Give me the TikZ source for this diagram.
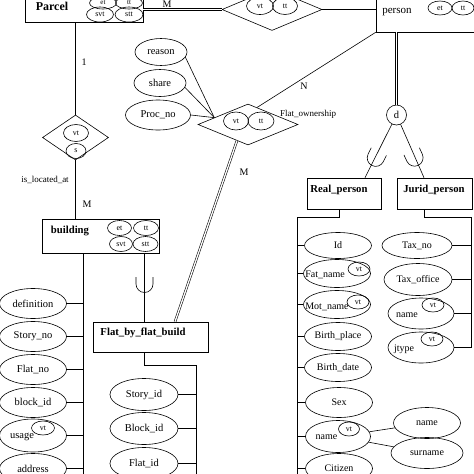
\documentclass[tikz,border=0pt]{standalone}
\usepackage{fontspec}
\setmainfont{Liberation Serif}
\usetikzlibrary{shapes.geometric,calc}
\newcommand{\subsetmark}[2]{\draw[shift={#1}, rotate=#2] (-8.5,-7) -- (-8.5,0) arc[start angle=180, end angle=0, radius=8.5] -- (8.5,-7);}
\tikzset{
  entity/.style = {draw, rectangle, inner sep=0pt},
  ename/.style = {inner sep=0pt, font=\fontsize{10.7}{12}\selectfont\bfseries},
  attr/.style = {draw, ellipse, inner sep=0pt, minimum width=67pt, minimum height=30pt,
    font=\fontsize{10.5}{12}\selectfont},
  attr_r/.style = {attr, minimum height=28pt, font=\fontsize{10}{12}\selectfont},
  aname/.style = {inner sep=0pt, font=\fontsize{10.5}{12}\selectfont},
  tag/.style = {draw, ellipse, inner sep=0pt, minimum width=25pt, minimum height=15pt,
    font=\fontsize{8}{9}\selectfont},
  rel/.style = {draw, diamond, inner sep=0pt},
  rname/.style = {inner sep=0pt, font=\fontsize{9}{10}\selectfont},
  card/.style = {inner sep=0pt, font=\fontsize{10}{12}\selectfont},
  total/.style = {double, double distance=1.3pt, line width=0.55pt}
}
\begin{document}
\begin{tikzpicture}[x=1pt, y=-1pt, line width=0.6pt]
\useasboundingbox (0,0) rectangle (474,474);
\clip (0,0) rectangle (474,474);

% entities
\node [entity, minimum width=118pt, minimum height=34pt] (parcel) at (84,5) {};
\node [ename, font=\fontsize{12}{14}\selectfont\bfseries] at (52,6) {Parcel};
\node [tag, minimum width=27pt, minimum height=12pt, font=\fontsize{7}{8}\selectfont] (parcelet) at (103,3) {et};
\node [tag, minimum width=27pt, minimum height=12pt, font=\fontsize{7}{8}\selectfont] (parceltt) at (129,3) {tt};
\node [tag, minimum width=27pt] (parcelsvt) at (100,14.5) {svt};
\node [tag, minimum width=28pt] (parcelstt) at (129,14.5) {stt};

\node [entity, minimum width=124pt, minimum height=42pt] (person) at (438,11) {};
\node [aname, font=\fontsize{11}{13}\selectfont] at (397,12) {person};
\node [tag, minimum width=24pt, minimum height=14pt] (personet) at (440,8) {et};
\node [tag, minimum width=22pt, minimum height=14pt] (persontt) at (463,8) {tt};

\node [entity, minimum width=117pt, minimum height=34pt] (building) at (100.5,236) {};
\node [ename] at (70,231) {building};
\node [tag, minimum width=24pt] (buildet) at (119.5,228) {et};
\node [tag] (buildtt) at (146,228) {tt};
\node [tag, minimum width=23pt] (buildsvt) at (121,244) {svt};
\node [tag] (buildstt) at (145.5,244) {stt};

\node [entity, minimum width=115pt, minimum height=30pt] (flatB) at (150.5,337) {};
\node [ename] at (143,333) {Flat\_by\_flat\_build};

\node [entity, minimum width=74pt, minimum height=31pt] (realP) at (344,193.5) {};
\node [ename] at (339,190) {Real\_person};
\node [entity, minimum width=75pt, minimum height=31pt] (juridP) at (434.5,193.5) {};
\node [ename] at (434,190) {Jurid\_person};

% relationships
\node [rel, minimum width=100pt, minimum height=42pt] (parcelRel) at (272,9.5) {};
\node [tag, minimum width=27pt, minimum height=17pt] (parcelRelvt) at (260,6) {vt};
\node [tag, minimum height=17pt] (parcelReltt) at (285,6) {tt};

\node [rel, minimum width=66pt, minimum height=45pt] (locRel) at (75.5,137.5) {};
\node [tag, minimum height=17pt] (locRelvt) at (76,133) {vt};
\node [tag, minimum width=20pt] (locRels) at (76,151) {s};
\node [rname] at (45,180) {is\_located\_at};

\node [rel, minimum width=100pt, minimum height=41pt] (ownRel) at (248,124.5) {};
\node [tag, minimum height=18pt] (ownRelvt) at (236,121) {vt};
\node [tag, minimum width=26pt, minimum height=18pt] (ownReltt) at (261,121) {tt};
\node [rname] at (308,114) {Flat\_ownership};

\node [draw, circle, minimum size=20pt, inner sep=0pt, font=\fontsize{10.5}{12}\selectfont] (dsp) at (396.5,115) {d};

% attributes of Flat_ownership
\node [attr, minimum width=52pt, minimum height=27pt] (reason) at (161,52) {reason};
\node [attr, minimum width=52pt, minimum height=27pt] (share) at (160,83) {share};
\node [attr, minimum width=65pt] (procno) at (158,115) {Proc\_no};

% attributes of building
\node [attr] (defn) at (33,303.5) {definition};
\node [attr] (storyno) at (33,336.5) {Story\_no};
\node [attr] (flatno) at (33,369.5) {Flat\_no};
\node [attr] (blockid) at (33,402.5) {block\_id};
\node [attr, minimum height=33pt] (usage) at (33,435.5) {};
\node [aname] at (22,437) {usage};
\node [tag, minimum width=23pt, minimum height=14pt] (usagevt) at (43,428) {vt};
\node [attr] (address) at (33,468.5) {address};

% attributes of Flat_by_flat_build
\node [attr, minimum width=68pt, minimum height=32pt] (storyid) at (144,394.5) {Story\_id};
\node [attr, minimum width=68pt, minimum height=32pt] (blockidf) at (144,428.5) {Block\_id};
\node [attr, minimum width=68pt, minimum height=32pt] (flatid) at (144,463.5) {Flat\_id};

% attributes of Real_person
\node [attr_r, minimum height=26pt] (id) at (338,245.5) {Id};
\node [attr_r] (fatname) at (337,273.5) {};
\node [aname, font=\fontsize{10}{12}\selectfont] at (325,275) {Fat\_name};
\node [tag, minimum width=22pt, minimum height=14pt] (fatnamevt) at (359,269) {vt};
\node [attr_r] (motname) at (337,304.5) {};
\node [aname, font=\fontsize{10}{12}\selectfont] at (327,307) {Mot\_name};
\node [tag, minimum width=22pt, minimum height=14pt] (motnamevt) at (358,302) {vt};
\node [attr_r] (birthplace) at (338,336.5) {Birth\_place};
\node [attr_r] (birthdate) at (338,367.5) {Birth\_date};
\node [attr_r, minimum height=30pt] (sex) at (339,402.5) {Sex};
\node [attr_r, minimum width=65pt, minimum height=32pt] (rname) at (338,436.5) {};
\node [aname, font=\fontsize{10}{12}\selectfont] at (326.5,437) {name};
\node [tag, minimum width=21pt, minimum height=14pt] (rnamevt) at (349,429) {vt};
\node [attr_r, minimum height=30pt] (citizen) at (339,468.5) {Citizen};
\node [attr_r, minimum height=31pt] (subname) at (427,423) {name};
\node [attr_r, minimum width=72pt, minimum height=31pt] (surname) at (427,453) {surname};

% attributes of Jurid_person
\node [attr_r, minimum width=70pt, minimum height=26pt] (taxno) at (417,245.5) {Tax\_no};
\node [attr_r, minimum width=68pt, minimum height=32pt] (taxoffice) at (418,279.5) {Tax\_office};
\node [attr_r, minimum width=66pt, minimum height=31pt] (jname) at (421,313.5) {};
\node [aname, font=\fontsize{10}{12}\selectfont] at (407,315) {name};
\node [tag, minimum width=22pt, minimum height=14pt] (jnamevt) at (433,305) {vt};
\node [attr_r, minimum width=66pt, minimum height=31pt] (jtype) at (421,347.5) {};
\node [aname, font=\fontsize{10}{12}\selectfont] at (404,349) {jtype};
\node [tag, minimum width=22pt, minimum height=14pt] (jtypevt) at (432,339) {vt};

% bus coordinates
\coordinate (bbus) at (83.5,480);
\coordinate (bf) at (144.5,365.5);
\coordinate (fbus) at (196.5,480);
\coordinate (rturn) at (339.5,217.5);
\coordinate (rbus) at (297.5,480);
\coordinate (jturn) at (424.5,217.5);
\coordinate (jbus) at (471.5,347.5);
\coordinate (pd) at (396.5,0);
\coordinate (oj) at ($(ownRel.west)!0.33!(ownRel.north)$);

% connectors
\draw [total] (parcelRel.west -| parcel.east) -- (parcelRel.west);
\node [card] at (167,4) {M};
\draw (parcelRel.east) -- (parcelRel.east -| person.west);
\draw (locRel.north |- parcel.south) -- (locRel.north);
\node [card] at (84,62) {1};
\draw (locRel.south) -- (locRel.south |- building.north);
\node [card] at (87,204) {M};
\draw ($(ownRel.north)!0.18!(ownRel.east)$) -- (person.south west);
\node [card] at (304,86) {N};
\draw [total] ($(ownRel.south)!0.22!(ownRel.west)$) -- ($(flatB.north)+(24.5,0)$);
\node [card] at (244,172) {M};
\draw (reason.-12) -- (oj);
\draw (share.-10) -- (oj);
\draw (procno.east) -- (oj);

\draw (bbus |- building.south) -- (bbus);
\foreach \a in {defn,storyno,flatno,blockid,usage,address}
  \draw (\a.east) -- (\a.east -| bbus);
\draw (bf |- building.south) -- (bf |- flatB.north);
\subsetmark{(144.5,284)}{0}
\draw (bf |- flatB.south) -- (bf) -| (fbus);
\foreach \a in {storyid,blockidf,flatid}
  \draw (\a.east) -- (\a.east -| fbus);

\draw [total] (pd |- person.south) -- (dsp.north);
\draw (dsp) -- ($(realP.north)+(21,0)$);
\draw (dsp) -- ($(juridP.north)+(-10.5,0)$);
\subsetmark{(375.7,157.9)}{-26.6}
\subsetmark{(414.6,157.7)}{24.8}

\draw (rturn |- realP.south) -- (rturn) -| (rbus);
\foreach \a in {id,fatname,motname,birthplace,birthdate,sex,rname,citizen}
  \draw (\a.west) -- (\a.west -| rbus);
\draw (rname) -- (subname);
\draw (rname) -- (surname);
\draw (jturn |- juridP.south) -- (jturn) -| (jbus);
\foreach \a in {taxno,taxoffice,jname,jtype}
  \draw (\a.east) -- (\a.east -| jbus);
\end{tikzpicture}
\end{document}
